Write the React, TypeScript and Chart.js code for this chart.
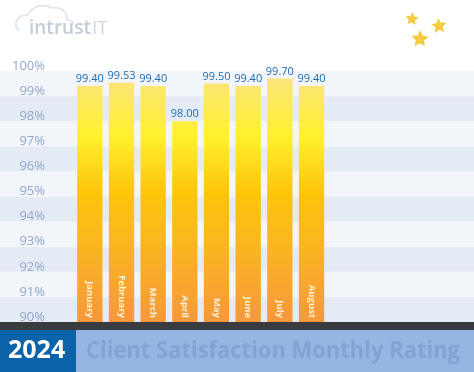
import React, { useEffect, useRef } from "react";
import { Chart, registerables } from "chart.js";

Chart.register(...registerables);

const months = ["January", "February", "March", "April", "May", "June", "July", "August", "September", "October", "November", "December"];
const ratings: (number | null)[] = [99.4, 99.53, 99.4, 98.0, 99.5, 99.4, 99.7, 99.4, null, null, null, null];
const valueLabels = ["99.40", "99.53", "99.40", "98.00", "99.50", "99.40", "99.70", "99.40"];
const yMin = 90;
const yMax = 100;
const yearText = "2024";
const titleText = "Client Satisfaction Monthly Rating";

function star(ctx: CanvasRenderingContext2D, cx: number, cy: number, r: number, rot: number) {
  ctx.beginPath();
  for (let i = 0; i < 10; i++) {
    const rr = i % 2 === 0 ? r : r * 0.48;
    const a = -Math.PI / 2 + rot + (i * Math.PI) / 5;
    const x = cx + rr * Math.cos(a);
    const y = cy + rr * Math.sin(a);
    if (i === 0) ctx.moveTo(x, y);
    else ctx.lineTo(x, y);
  }
  ctx.closePath();
  ctx.fill();
}

const decorPlugin = {
  id: "decor",
  beforeDraw(chart: any) {
    const ctx = chart.ctx as CanvasRenderingContext2D;
    const y = chart.scales.y;
    const W = chart.width;
    ctx.save();
    ctx.fillStyle = "#ffffff";
    ctx.fillRect(0, 0, W, chart.height);
    for (let v = yMin; v < yMax; v++) {
      const top = y.getPixelForValue(v + 1);
      const bot = y.getPixelForValue(v);
      ctx.fillStyle = (yMax - (v + 1)) % 2 === 0 ? "#f2f5fa" : "#e5ebf4";
      ctx.fillRect(0, top, W, bot - top);
    }
    // logo cloud
    ctx.strokeStyle = "#e3e8f0";
    ctx.lineWidth = 2;
    ctx.beginPath();
    ctx.moveTo(19, 31);
    ctx.bezierCurveTo(12, 24, 18, 14, 28, 15);
    ctx.bezierCurveTo(32, 6, 44, 3, 52, 8);
    ctx.bezierCurveTo(60, 6, 68, 12, 67, 20);
    ctx.bezierCurveTo(71, 20, 74, 22, 73, 25);
    ctx.stroke();
    ctx.textBaseline = "alphabetic";
    ctx.textAlign = "left";
    ctx.fillStyle = "#c3ccd9";
    ctx.font = "600 19px 'Open Sans', sans-serif";
    ctx.fillText("intrust", 29, 34);
    const w = ctx.measureText("intrust").width;
    ctx.fillStyle = "#cfd6e1";
    ctx.font = "400 19px 'Open Sans', sans-serif";
    ctx.fillText("IT", 29 + w + 1, 34);
    // stars
    ctx.fillStyle = "#f6cb3f";
    star(ctx, 412, 19, 7, 0.1);
    star(ctx, 439, 26, 8, -0.1);
    star(ctx, 420, 39, 9, 0.05);
    ctx.restore();
  },
  afterDraw(chart: any) {
    const ctx = chart.ctx as CanvasRenderingContext2D;
    const area = chart.chartArea;
    const W = chart.width;
    const meta = chart.getDatasetMeta(0);
    ctx.save();
    meta.data.forEach((bar: any, i: number) => {
      if (ratings[i] == null) return;
      ctx.fillStyle = "#1c6db4";
      ctx.font = "400 11px 'Open Sans', sans-serif";
      ctx.textAlign = "center";
      ctx.textBaseline = "alphabetic";
      ctx.fillText(valueLabels[i], bar.x, bar.y - 4);
      ctx.save();
      ctx.translate(bar.x, area.bottom - 4);
      ctx.rotate(Math.PI / 2);
      ctx.fillStyle = "rgba(255,244,222,0.95)";
      ctx.font = "700 9.5px 'Open Sans', sans-serif";
      ctx.textAlign = "right";
      ctx.textBaseline = "middle";
      ctx.fillText(months[i], 0, 0);
      ctx.restore();
    });
    const b = area.bottom;
    ctx.fillStyle = "#3a3b3e";
    ctx.fillRect(0, b, W, 8);
    ctx.fillStyle = "#0c63aa";
    ctx.fillRect(0, b + 8, 76, chart.height - b - 8);
    ctx.fillStyle = "#95b6e2";
    ctx.fillRect(76, b + 8, W - 76, chart.height - b - 8);
    ctx.textAlign = "left";
    ctx.textBaseline = "alphabetic";
    ctx.fillStyle = "#ffffff";
    ctx.font = "700 25px 'Open Sans', sans-serif";
    ctx.fillText(yearText, 8, 358, 60);
    ctx.fillStyle = "#80a4d5";
    ctx.font = "700 24px 'Open Sans', sans-serif";
    ctx.fillText(titleText, 86, 358, 374);
    ctx.restore();
  },
};

export default function App() {
  const ref = useRef<HTMLCanvasElement>(null);
  useEffect(() => {
    document.body.style.margin = "0";
    const canvas = ref.current!;
    const chart = new Chart(canvas, {
      type: "bar",
      data: {
        labels: months,
        datasets: [
          {
            data: ratings,
            backgroundColor: (c: any) => {
              const ch = c.chart;
              const el = c.element;
              const area = ch.chartArea;
              if (!area || !el) return "#fdc40a";
              const top = el.y ?? area.top;
              const g = ch.ctx.createLinearGradient(0, top, 0, area.bottom);
              g.addColorStop(0, "#fce286");
              g.addColorStop(0.26, "#fff12c");
              g.addColorStop(0.48, "#fdc60a");
              g.addColorStop(0.72, "#fbb322");
              g.addColorStop(1, "#f5983c");
              return g;
            },
            borderWidth: 0,
            categoryPercentage: 1,
            barPercentage: 0.8,
          },
        ],
      },
      options: {
        responsive: false,
        animation: false,
        devicePixelRatio: 1,
        layout: { padding: { left: 0, top: 71, right: 20, bottom: 50 } },
        plugins: { legend: { display: false }, tooltip: { enabled: false } },
        scales: {
          x: { display: false },
          y: {
            min: yMin,
            max: yMax,
            afterFit: (s: any) => {
              s.width = 74;
            },
            grid: { display: false, drawTicks: false },
            border: { display: false },
            ticks: {
              stepSize: 1,
              padding: 29,
              labelOffset: -5,
              color: "#93a7c9",
              font: { family: "'Open Sans', sans-serif", size: 13 },
              callback: (v: any) => v + "%",
            },
          },
        },
      },
      plugins: [decorPlugin],
    });
    return () => chart.destroy();
  }, []);
  return (
    <div style={{ position: "fixed", left: 0, top: 0, width: 474, height: 372 }}>
      <canvas ref={ref} width={474} height={372} />
    </div>
  );
}
